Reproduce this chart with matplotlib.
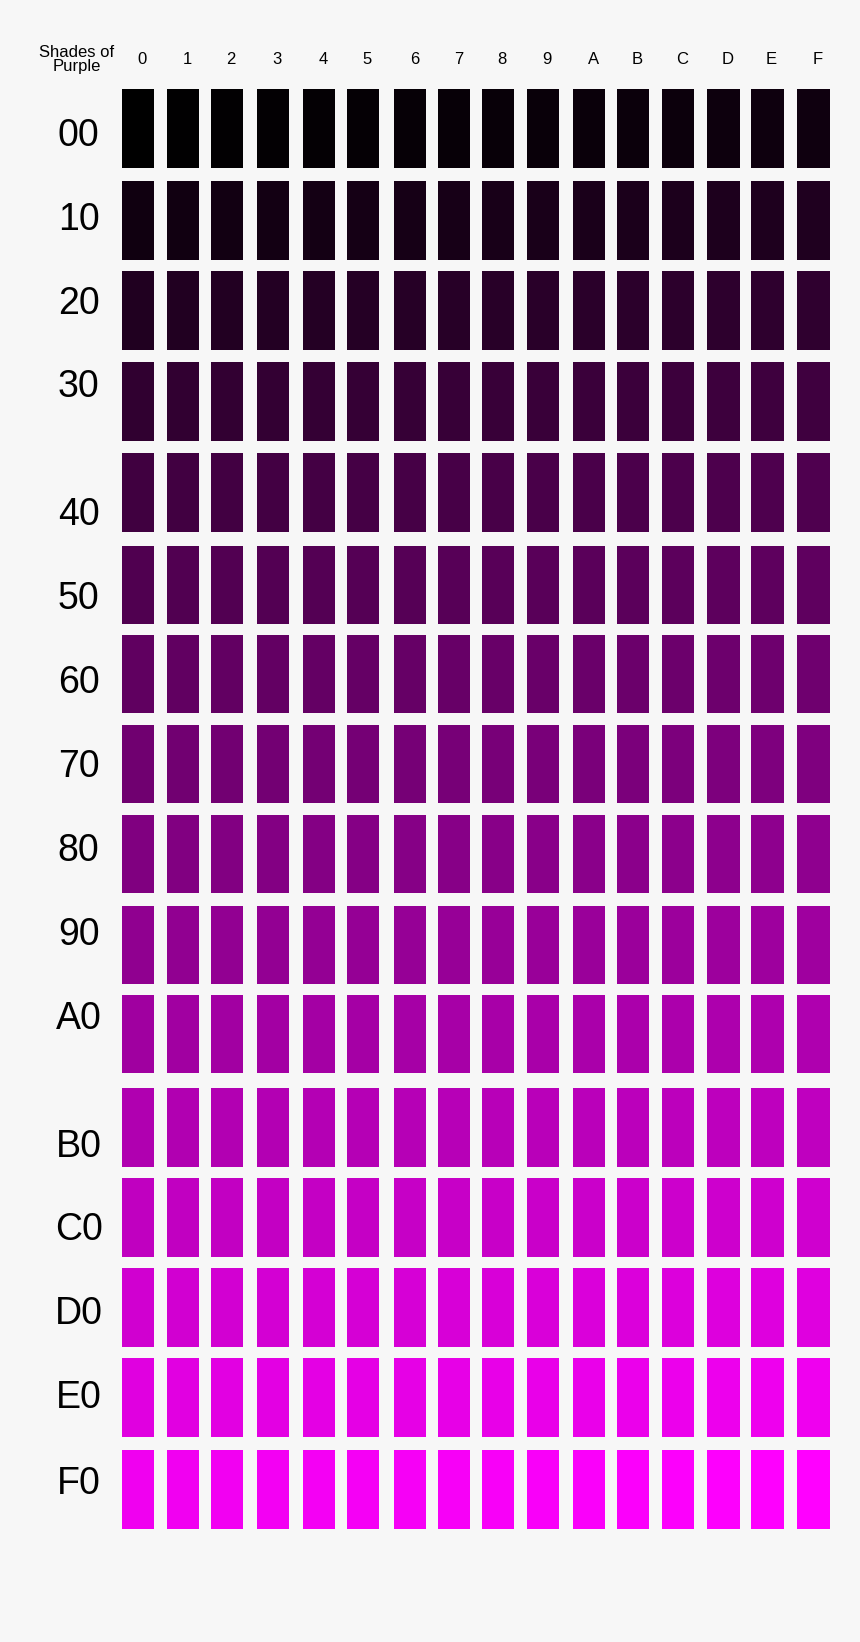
import matplotlib.pyplot as plt
from matplotlib.patches import Rectangle

plt.rcParams['font.family'] = ['Liberation Sans', 'DejaVu Sans']

col_labels = list("0123456789ABCDEF")
row_labels = ["00", "10", "20", "30", "40", "50", "60", "70",
              "80", "90", "A0", "B0", "C0", "D0", "E0", "F0"]

# layout in reference pixel units (821 x 1568 frame)
col_left = [116, 159, 201, 245, 289, 331, 376, 418, 460, 503, 547, 589, 632, 675, 717, 761]
row_top = [85, 173, 259, 346, 433, 521, 606, 692, 778, 865, 950, 1039, 1125, 1211, 1297, 1385]
label_y = [130, 210, 290, 370, 492, 572, 652, 732, 813, 893, 973, 1095, 1175, 1255, 1335, 1417]
cell_w, cell_h = 31, 75

fig = plt.figure(figsize=(8.6, 16.42), dpi=100)
fig.patch.set_facecolor('#f7f7f7')
ax = fig.add_axes([0, 0, 1, 1])
ax.set_xlim(0, 821)
ax.set_ylim(1568, 0)
ax.axis('off')

for r, rl in enumerate(row_labels):
    for c, cl in enumerate(col_labels):
        v = int(rl, 16) + int(cl, 16)
        ax.add_patch(Rectangle((col_left[c], row_top[r]), cell_w, cell_h,
                               facecolor=(v / 255, 0, v / 255), edgecolor='none'))
    ax.text(75, label_y[r], rl, fontsize=27, ha='center', va='center')

for c, cl in enumerate(col_labels):
    ax.text(col_left[c] + cell_w / 2 + 4, 57, cl, fontsize=12, ha='center', va='center')

ax.text(73, 57, "Shades of\nPurple", fontsize=12, ha='center', va='center', linespacing=0.95)

fig.savefig("out.png", dpi=100, facecolor=fig.get_facecolor())
